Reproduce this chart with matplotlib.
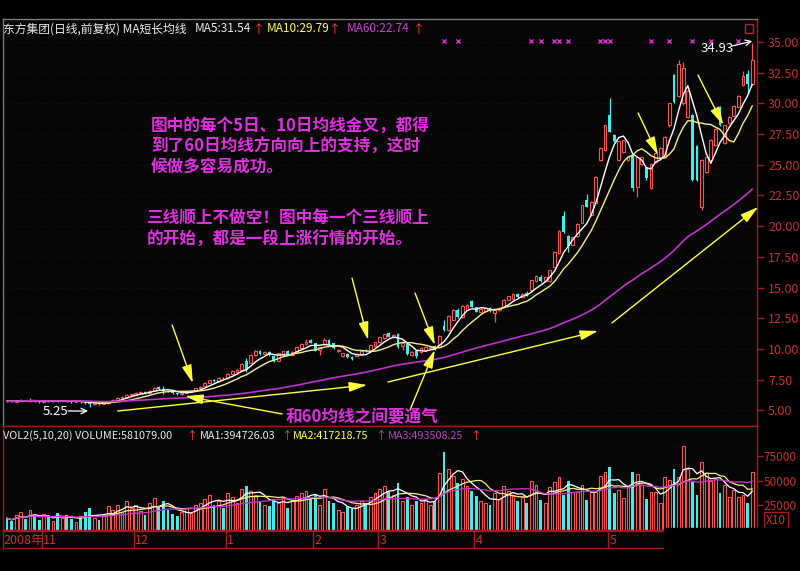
import matplotlib
matplotlib.use('Agg')
import matplotlib.pyplot as plt
from matplotlib.patches import Rectangle
import numpy as np
import pandas as pd

plt.rcParams['font.family'] = ['Noto Sans CJK SC', 'DejaVu Sans']

# daily candles (forward-adjusted prices)
opens = [
    5.80, 5.75, 5.72, 5.78, 5.85, 5.80, 5.82, 5.76, 5.70, 5.78,
    5.74, 5.80, 5.77, 5.82, 5.75, 5.70, 5.75, 5.65, 5.60, 5.55,
    5.58, 5.55, 5.60, 5.72, 5.86, 6.00, 6.08, 6.22, 6.28, 6.42,
    6.50, 6.42, 6.60, 6.88, 6.78, 6.60, 6.55, 6.40, 6.32, 6.45,
    6.55, 6.62, 6.80, 7.00, 7.25, 7.45, 7.40, 7.65, 7.60, 8.00,
    8.15, 8.30, 9.05, 8.90, 9.50, 9.85, 9.60, 9.75, 9.40, 9.05,
    9.55, 9.80, 9.50, 9.70, 10.10, 10.40, 10.70, 10.45, 9.95, 10.40,
    10.70, 10.45, 9.80, 9.40, 9.60, 9.35, 9.45, 9.60, 9.95, 9.90,
    10.25, 10.55, 10.90, 11.30, 11.00, 11.20, 10.25, 10.40, 9.55, 9.80,
    9.75, 9.90, 10.05, 10.25, 10.20, 11.90, 11.55, 12.40, 13.20, 12.60,
    13.20, 13.90, 13.40, 13.05, 13.10, 13.35, 12.90, 13.15, 13.40, 14.00,
    14.10, 14.50, 14.20, 14.60, 14.80, 15.50, 15.90, 15.50, 15.50, 16.70,
    17.80, 20.80, 19.20, 18.50, 19.20, 20.30, 22.10, 20.90, 21.90, 25.40,
    26.20, 29.05, 27.40, 25.40, 26.00, 25.40, 25.80, 23.20, 25.10, 24.80,
    23.10, 25.20, 25.60, 25.60, 28.20, 32.30, 30.60, 30.00, 28.90, 29.05,
    26.50, 21.60, 24.40, 25.40, 26.60, 29.50, 26.80, 28.40, 29.00, 29.70,
    31.50, 32.40, 31.60]
highs = [
    5.86, 5.80, 5.82, 5.90, 5.88, 5.98, 5.86, 5.80, 5.82, 5.84,
    5.86, 5.84, 5.88, 5.85, 5.80, 5.80, 5.78, 5.70, 5.64, 5.64,
    5.62, 5.66, 5.78, 5.92, 6.06, 6.16, 6.30, 6.36, 6.50, 6.58,
    6.56, 6.68, 6.92, 6.98, 6.95, 6.66, 6.58, 6.45, 6.50, 6.60,
    6.68, 6.86, 6.95, 7.30, 7.50, 7.55, 7.70, 7.72, 8.05, 8.25,
    8.36, 8.85, 9.30, 9.60, 9.90, 9.92, 9.80, 9.80, 9.45, 9.70,
    9.85, 9.88, 9.80, 10.20, 10.45, 10.80, 10.80, 10.50, 10.20, 10.90,
    10.78, 10.50, 10.00, 9.70, 9.66, 9.40, 9.65, 9.85, 10.00, 10.35,
    10.60, 11.00, 11.25, 11.40, 11.20, 11.30, 10.50, 10.45, 9.80, 9.85,
    10.15, 10.25, 10.25, 10.30, 11.10, 12.40, 12.75, 13.25, 13.30, 13.55,
    13.65, 14.00, 13.45, 13.30, 13.35, 13.40, 13.25, 13.40, 14.05, 14.35,
    14.55, 14.60, 14.55, 14.70, 15.65, 16.00, 16.00, 15.90, 16.45, 17.95,
    19.70, 21.20, 19.25, 19.15, 20.25, 21.75, 22.60, 22.05, 24.05, 26.45,
    28.25, 30.40, 27.50, 26.95, 27.05, 25.65, 25.90, 25.65, 25.65, 24.85,
    25.15, 26.00, 26.45, 27.35, 30.05, 32.40, 33.50, 33.40, 31.10, 29.10,
    26.60, 25.45, 25.65, 27.10, 27.95, 29.75, 28.25, 29.00, 29.85, 30.65,
    32.60, 32.70, 34.93]
lows = [
    5.70, 5.68, 5.70, 5.75, 5.76, 5.70, 5.72, 5.64, 5.66, 5.70,
    5.72, 5.72, 5.74, 5.70, 5.62, 5.66, 5.60, 5.52, 5.25, 5.48,
    5.46, 5.50, 5.56, 5.68, 5.82, 5.95, 6.02, 6.18, 6.24, 6.38,
    6.36, 6.40, 6.56, 6.70, 6.35, 6.48, 6.30, 6.22, 6.28, 6.40,
    6.50, 6.58, 6.74, 6.95, 7.20, 7.30, 7.35, 7.52, 7.55, 7.95,
    8.10, 8.25, 8.10, 8.85, 9.45, 9.50, 9.55, 9.45, 8.95, 9.00,
    9.50, 9.50, 9.45, 9.65, 10.05, 10.35, 10.45, 9.80, 9.55, 10.35,
    10.30, 10.00, 9.75, 9.35, 9.30, 9.10, 9.40, 9.55, 9.75, 9.85,
    10.20, 10.50, 10.85, 10.95, 10.90, 10.10, 9.90, 9.55, 9.45, 9.25,
    9.70, 9.85, 10.00, 9.95, 10.15, 11.50, 11.50, 12.35, 12.55, 12.55,
    13.15, 13.40, 13.00, 13.00, 13.05, 13.05, 12.20, 13.10, 13.35, 13.95,
    14.05, 14.15, 14.15, 14.35, 14.75, 15.45, 15.45, 15.45, 15.45, 16.65,
    17.75, 19.45, 17.90, 18.45, 19.15, 20.25, 21.55, 20.80, 21.85, 25.30,
    26.10, 27.65, 26.85, 25.30, 25.95, 25.30, 22.90, 22.40, 25.00, 23.80,
    23.00, 25.15, 25.55, 25.55, 28.10, 30.00, 30.50, 29.90, 28.80, 23.70,
    23.70, 21.30, 24.30, 25.35, 26.50, 28.15, 26.70, 28.30, 28.95, 29.60,
    31.40, 30.80, 31.50]
closes = [
    5.75, 5.72, 5.78, 5.85, 5.80, 5.82, 5.76, 5.70, 5.78, 5.74,
    5.80, 5.77, 5.82, 5.75, 5.70, 5.75, 5.65, 5.60, 5.55, 5.58,
    5.55, 5.60, 5.75, 5.88, 6.02, 6.10, 6.25, 6.30, 6.45, 6.50,
    6.42, 6.62, 6.85, 6.78, 6.60, 6.55, 6.40, 6.30, 6.45, 6.55,
    6.62, 6.80, 6.88, 7.25, 7.45, 7.40, 7.65, 7.60, 8.00, 8.20,
    8.30, 8.80, 8.25, 9.50, 9.85, 9.60, 9.75, 9.50, 9.00, 9.65,
    9.80, 9.55, 9.75, 10.15, 10.40, 10.60, 10.50, 9.85, 10.15, 10.75,
    10.35, 10.05, 9.95, 9.65, 9.35, 9.15, 9.60, 9.80, 9.80, 10.30,
    10.55, 10.95, 11.20, 11.00, 11.15, 10.20, 10.45, 9.60, 9.75, 9.45,
    10.10, 10.20, 10.15, 10.00, 11.05, 11.55, 12.70, 13.20, 12.60, 13.50,
    13.60, 13.45, 13.05, 13.25, 13.30, 13.10, 13.20, 13.35, 14.00, 14.30,
    14.50, 14.20, 14.50, 14.40, 15.60, 15.95, 15.50, 15.85, 16.40, 17.90,
    19.60, 19.50, 18.40, 19.10, 20.20, 21.70, 21.60, 22.00, 24.00, 26.40,
    28.20, 27.70, 26.90, 26.90, 27.00, 25.60, 23.10, 25.60, 25.60, 23.90,
    25.10, 25.95, 26.40, 27.30, 30.00, 30.10, 33.20, 32.90, 31.00, 23.80,
    23.80, 25.40, 25.60, 27.00, 27.90, 28.20, 28.20, 28.90, 29.80, 30.60,
    32.20, 31.60, 33.50]
# volume in units of 10 shares (axis says X10)
volumes = [
    12000, 9000, 15000, 18000, 11000, 20000, 14000, 10000, 16000, 13000,
    9000, 17000, 12000, 15000, 11000, 8000, 14000, 18000, 22000, 12000,
    10000, 16000, 24000, 20000, 26000, 18000, 30000, 22000, 25000, 19000,
    15000, 28000, 33000, 24000, 30000, 20000, 16000, 14000, 18000, 22000,
    17000, 25000, 28000, 32000, 36000, 26000, 30000, 22000, 38000, 34000,
    28000, 42000, 45000, 40000, 36000, 30000, 26000, 24000, 32000, 28000,
    34000, 22000, 30000, 35000, 38000, 40000, 33000, 36000, 25000, 42000,
    30000, 28000, 20000, 18000, 24000, 22000, 26000, 30000, 28000, 34000,
    38000, 42000, 45000, 40000, 36000, 48000, 30000, 34000, 26000, 30000,
    28000, 32000, 26000, 30000, 58000, 80000, 62000, 55000, 48000, 52000,
    45000, 40000, 35000, 30000, 28000, 26000, 38000, 32000, 45000, 40000,
    36000, 30000, 34000, 28000, 50000, 46000, 30600, 27500, 44000, 49000,
    54000, 36000, 50000, 39000, 39000, 46000, 30600, 39000, 39000, 55000,
    59000, 64000, 38000, 41000, 33000, 45000, 59000, 57000, 46000, 32000,
    39000, 39000, 27500, 54000, 51000, 62000, 54000, 86000, 62000, 49000,
    36000, 69000, 58000, 50000, 52000, 38000, 46000, 33860, 40860, 34000,
    36000, 27500, 59000]

month_pos = [8, 28, 48, 67, 81, 102, 131]
month_labels = ['11', '12', '1', '2', '3', '4', '5']
price_ticks = [5.0, 7.5, 10.0, 12.5, 15.0, 17.5, 20.0, 22.5, 25.0, 27.5, 30.0, 32.5, 35.0]
vol_ticks = [25000, 50000, 75000]
mark_days = [95, 98, 114, 116, 119, 120, 122, 129, 130, 131, 140, 144, 149, 153, 159]

RED = '#ff5050'
CYAN = '#3cf0f0'
FRAME = '#a81818'
LABEL = '#c83030'
YEL = '#ffff3c'
MAG = '#e22ee2'

o = np.array(opens); h = np.array(highs); l = np.array(lows); c = np.array(closes)
v = np.array(volumes)
n = len(c)
x = np.arange(n)
ma5 = pd.Series(c).rolling(5, min_periods=1).mean()
ma10 = pd.Series(c).rolling(10, min_periods=1).mean()
ma60 = pd.Series(c).rolling(60, min_periods=1).mean()
vma5 = pd.Series(v).rolling(5, min_periods=1).mean()
vma10 = pd.Series(v).rolling(10, min_periods=1).mean()
vma20 = pd.Series(v).rolling(20, min_periods=1).mean()

W, H = 800, 571
fig = plt.figure(figsize=(W / 100, H / 100), dpi=100, facecolor='black')


def box(left, top, right, bottom):
    return [left / W, 1 - bottom / H, (right - left) / W, (bottom - top) / H]


ax = fig.add_axes(box(3, 19, 757, 426))
axv = fig.add_axes(box(3, 426, 757, 530))
axd = fig.add_axes(box(3, 531, 757, 548))
XL = (-0.87, 163.04)

for a in (ax, axv, axd):
    a.set_facecolor('#060606')
    a.set_xlim(XL)
    a.set_xticks([])
    for s in a.spines.values():
        s.set_color(FRAME)
        s.set_linewidth(1)
ax.spines['top'].set_color('#7a7a7a')
ax.spines['left'].set_color('#7a7a7a')

# candles
up = c >= o
bot = np.minimum(o, c)
top = np.maximum(o, c)
hgt = np.maximum(top - bot, 0.03)
ax.vlines(x[up], top[up], h[up], color=RED, lw=0.9)
ax.vlines(x[up], l[up], bot[up], color=RED, lw=0.9)
ax.vlines(x[~up], l[~up], h[~up], color=CYAN, lw=0.9)
ax.bar(x[up], hgt[up], bottom=bot[up], width=0.62, facecolor='#060606', edgecolor=RED, linewidth=0.8)
ax.bar(x[~up], hgt[~up], bottom=bot[~up], width=0.62, color=CYAN, linewidth=0)

ax.plot(x, ma5, color='white', lw=1)
ax.plot(x, ma10, color='#f4f08a', lw=1)
ax.plot(x, ma60, color='#c030d0', lw=1.2)

ax.set_ylim(3.73, 36.87)
ax.yaxis.tick_right()
ax.set_yticks(price_ticks)
ax.set_yticklabels(['%.2f' % t for t in price_ticks])
ax.tick_params(axis='y', colors=FRAME, labelcolor=LABEL, length=5, width=1, labelsize=9, pad=3)
for t in price_ticks:
    ax.axhline(t, color='#4a1010', lw=0.6, ls=(0, (1, 3)), zorder=0)

# markers on the top row
ax.scatter(mark_days, [0.946] * len(mark_days), marker='x', s=9, lw=1, color='#d030d0',
           transform=ax.get_xaxis_transform(), clip_on=False)

# price labels with small white arrows
ax.text(7.8, 4.95, '5.25', color='white', fontsize=9.5, va='center', ha='left')
ax.annotate('', xy=(17.6, 4.95), xytext=(13.3, 4.95),
            arrowprops=dict(arrowstyle='->', color='white', lw=0.9, shrinkA=0, shrinkB=0))
ax.text(150.7, 34.5, '34.93', color='white', fontsize=9.5, va='center', ha='left')
ax.annotate('', xy=(162.0, 35.07), xytext=(157.6, 34.67), annotation_clip=False,
            arrowprops=dict(arrowstyle='->', color='white', lw=0.9, shrinkA=0, shrinkB=0))

# yellow arrows (tail -> head), in candle index / price
arrows = [
    ((35.9, 11.95), (40.4, 7.23)),
    ((75.0, 15.78), (78.5, 10.73)),
    ((88.7, 14.56), (93.0, 10.33)),
    ((87.6, 5.03), (93.0, 9.92)),
    ((137.2, 29.22), (141.5, 25.80)),
    ((150.2, 32.31), (155.7, 28.24)),
    ((24.1, 4.95), (78.3, 7.07)),
    ((59.8, 4.71), (38.7, 6.17)),
    ((82.8, 7.31), (128.5, 11.47)),
    ((131.5, 12.12), (163.3, 21.56)),
]
for tail, head in arrows:
    ax.annotate('', xy=head, xytext=tail, annotation_clip=False,
                arrowprops=dict(arrowstyle='-|>,head_length=1.1,head_width=0.3', mutation_scale=10,
                                color=YEL, lw=1, shrinkA=0, shrinkB=0))

# magenta commentary
note1 = ['图中的每个5日、10日均线金叉，都得', '到了60日均线方向向上的支持，这时', '候做多容易成功。']
note2 = ['三线顺上不做空！图中每一个三线顺上', '的开始，都是一段上涨行情的开始。']
for k, s in enumerate(note1):
    fig.text(151 / W, 1 - (126 + 21 * k) / H, s, color=MAG, fontsize=12, fontweight='bold', va='center')
for k, s in enumerate(note2):
    fig.text(147 / W, 1 - (218 + 22 * k) / H, s, color=MAG, fontsize=12, fontweight='bold', va='center')
ax.text(0.375, 0.022, '和60均线之间要通气', transform=ax.transAxes, color=MAG, fontsize=12,
        fontweight='bold', va='center', ha='left', clip_on=True)

# header line
head = [(3, '东方集团(日线,前复权) MA短长均线', '#ececec'), (195, 'MA5:31.54', '#ececec'),
        (253, '↑', '#ff4040'), (267, 'MA10:29.79', '#ffff50'), (329, '↑', '#ff4040'),
        (347, 'MA60:22.74', '#d040d0'), (413, '↑', '#ff4040')]
for px, s, col in head:
    fig.text(px / W, 1 - 29 / H, s, color=col, fontsize=8.5, va='center')
fig.patches.append(Rectangle((745 / W, 1 - 33 / H), 8 / W, 9 / H, transform=fig.transFigure,
                             fill=False, edgecolor='#c02020', lw=1))

# volume panel
vup = c >= o
axv.bar(x[vup], v[vup], width=0.62, facecolor='#060606', edgecolor=RED, linewidth=0.8)
axv.bar(x[~vup], v[~vup], width=0.62, color=CYAN, linewidth=0)
axv.plot(x, vma5, color='white', lw=0.9)
axv.plot(x, vma10, color='#f4f08a', lw=0.9)
axv.plot(x, vma20, color='#d030d0', lw=0.9)
axv.set_ylim(0, 106122)
axv.yaxis.tick_right()
axv.set_yticks(vol_ticks)
axv.set_yticklabels([str(t) for t in vol_ticks])
axv.tick_params(axis='y', colors=FRAME, labelcolor=LABEL, length=4, width=1, labelsize=8.5, pad=1)
axv.text(1.012, 0.096, 'X10', transform=axv.transAxes, color=LABEL, fontsize=8.5, va='center',
         bbox=dict(boxstyle='square,pad=0.15', fc='none', ec=FRAME, lw=1))
vhead = [(3, 'VOL2(5,10,20) VOLUME:581079.00', '#ececec'), (186, '↑', '#ff4040'),
         (200, 'MA1:394726.03', '#ececec'), (281, '↑', '#ff4040'),
         (293, 'MA2:417218.75', '#ffff50'), (375, '↑', '#ff4040'),
         (388, 'MA3:493508.25', '#c040c0'), (470, '↑', '#ff4040')]
for px, s, col in vhead:
    fig.text(px / W, 1 - 436 / H, s, color=col, fontsize=7.8, va='center')

# date strip
axd.set_ylim(0, 1)
axd.set_yticks([])
axd.text(0.0, 0.45, '2008年', transform=axd.transAxes, color=LABEL, fontsize=9, va='center')
for p, lab in zip(month_pos, month_labels):
    axd.axvline(p - 0.4, color=FRAME, lw=1)
    axd.text(p - 0.1, 0.45, lab, color=LABEL, fontsize=9, va='center', ha='left')

# black patch at the lower right corner
fig.patches.append(Rectangle((664 / W, 0), 136 / W, (H - 528) / H, transform=fig.transFigure,
                             color='black', zorder=10))

fig.savefig('out.png', dpi=100, facecolor='black')
